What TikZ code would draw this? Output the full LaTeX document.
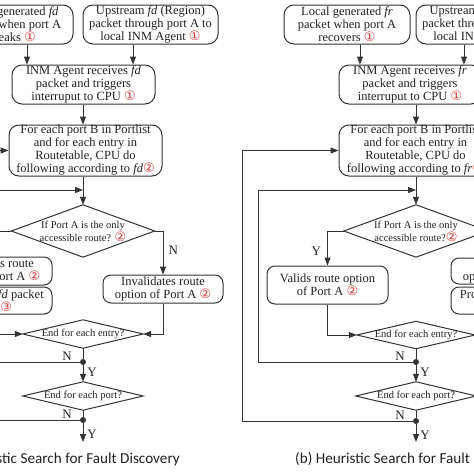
\documentclass[tikz,border=0pt]{standalone}
\usepackage{fontspec}
\setmainfont{Liberation Serif}
\newfontfamily\dvfont{DejaVu Sans}
\newfontfamily\capfont{Carlito}
\usetikzlibrary{arrows.meta,calc}
\definecolor{lc}{HTML}{333333}
\definecolor{tc}{HTML}{222222}
\definecolor{cr}{HTML}{D83A3A}
\newcommand\circnum[1]{{\color{cr}\dvfont\fontsize{13}{13}\selectfont #1}}
\newcommand\bxfont{\fontsize{12.5}{13}\selectfont}
\newcommand\dafont{\fontsize{10.5}{13}\selectfont}
\newcommand\drawdia[1]{\draw[ln] (#1.north) -- (#1.east) -- (#1.south) -- (#1.west) -- cycle;}
\begin{document}
\begin{tikzpicture}[x=1pt,y=-1pt,
  ln/.style={draw=lc, line width=1pt},
  arr/.style={ln, -{Triangle[length=8pt,width=6pt]}},
  box/.style={draw=lc, line width=1pt, rounded corners=10pt, align=center, inner sep=0pt, font=\bxfont, text=tc},
  sbox/.style={box, rounded corners=8pt, minimum width=120pt},
  dia/.style={align=center, inner sep=0pt, font=\dafont, text=tc},
  dot/.style={circle, fill=lc, inner sep=0pt, minimum size=6pt},
  lab/.style={font=\fontsize{13}{13}\selectfont, text=tc, inner sep=0pt},
  captext/.style={font=\capfont\fontsize{15.2}{16}\selectfont, text=tc, inner sep=0pt}]
\useasboundingbox (0,0) rectangle (474,474);
\fill[white] (0,0) rectangle (474,474);
\clip (0,0) rectangle (474,474);

% ---------------- (a) ----------------
\coordinate (ax1) at (27,0);
\coordinate (ax2) at (133,0);
\coordinate (ac) at (83,0);
\coordinate (aL1) at (-40,0);
\coordinate (aL2) at (-60,0);
\coordinate (am) at (83,190);
\coordinate (aend) at (83,442);

\node[box, minimum width=122pt, minimum height=39pt] (a1) at (12,24.5)
  {Local generated \textit{fd}\\packet when port A\\breaks \circnum{①}};
\node[box, minimum width=135pt, minimum height=39pt] (a2) at (150.5,24.5)
  {Upstream \textit{fd} (Region)\\packet through port A to\\local INM Agent \circnum{①}};
\node[box, minimum width=143pt, minimum height=39pt] (a3) at (83.5,84.5)
  {INM Agent receives \textit{fd}\\packet and triggers\\interruput to CPU \circnum{①}};
\node[box, minimum width=153pt, minimum height=51pt] (a4) at (85.5,150.5)
  {For each port B in Portlist\\and for each entry in\\Routetable, CPU do\\following according to \textit{fd}\circnum{②}};
\node[dia, minimum width=143pt, minimum height=52pt] (a5) at (83,231)
  {If Port A is the only\\accessible route? \circnum{②}};
\drawdia{a5}
\node[sbox, minimum height=28pt] (a6) at (-8,271)
  {Invalidates route\\option of Port A \circnum{②}};
\node[sbox, minimum height=27pt] (a7) at (-8,300.5)
  {Propagates \textit{fd} packet\\to all \circnum{③}};
\node[sbox, minimum height=28pt] (a8) at (163,289)
  {Invalidates route\\option of Port A \circnum{②}};
\node[dia, minimum width=120pt, minimum height=28pt] (a9) at (83,334)
  {End for each entry?};
\drawdia{a9}
\node[dot] (ad1) at (83,362) {};
\node[dia, minimum width=120pt, minimum height=28pt] (a10) at (83,396)
  {End for each port?};
\drawdia{a10}
\node[dot] (ad2) at (83,420) {};

\draw[arr] (a1.south -| ax1) -- (a3.north -| ax1);
\draw[arr] (a2.south -| ax2) -- (a3.north -| ax2);
\draw[arr] (a3.south -| ac) -- (a4.north -| ac);
\draw[arr] (a4.south -| ac) -- (a5.north);
\draw[arr] (a5.west) -| (a6.north);
\draw[arr] (a6.south) -- (a7.north);
\draw[arr] (a5.east) -| node[lab, pos=0.72, right=5pt] (aNlab) {N} (a8.north);
\draw[arr] (a7.south) |- (a9.west);
\draw[arr] (a8.south) |- (a9.east);
\draw[ln] (a9.south) -- (ad1);
\draw[arr] (ad1) -- (a10.north);
\draw[ln] (a10.south) -- (ad2);
\draw[arr] (ad2) -- (aend);
\draw[arr] (ad1) -- (ad1 -| aL1) -- (aL1 |- am) -- (am);
\draw[arr] (ad2) -- (ad2 -| aL2) -- (aL2 |- a4.west) -- (a4.west);
\node[lab] (aN1) at ($(ad1)+(-16,-6)$) {N};
\node[lab] (aY1) at ($(ad1)+(9,10)$) {Y};
\node[lab] (aN2) at ($(ad2)+(-16,-6)$) {N};
\node[lab] (aY2) at ($(ad2)+(9,14)$) {Y};
\node[captext, anchor=base east] (acap) at (180,463) {(a) Heuristic Search for Fault Discovery};

% ---------------- (b) ----------------
\coordinate (bx1) at (360,0);
\coordinate (bx2) at (464,0);
\coordinate (bc) at (416,0);
\coordinate (bL1) at (258,0);
\coordinate (bL2) at (242,0);
\coordinate (bm) at (416,190);
\coordinate (bend) at (416,442);

\node[box, minimum width=126pt, minimum height=39pt] (b1) at (347,24.5)
  {Local generated \textit{fr}\\packet when port A\\recovers \circnum{①}};
\node[box, minimum width=135pt, minimum height=39pt] (b2) at (483.5,24.5)
  {Upstream \textit{fr} (Region)\\packet through port A to\\local INM Agent \circnum{①}};
\node[box, minimum width=142pt, minimum height=39pt] (b3) at (410,84.5)
  {INM Agent receives \textit{fr}\\packet and triggers\\interruput to CPU \circnum{①}};
\node[box, minimum width=153pt, minimum height=51pt] (b4) at (415.5,150.5)
  {For each port B in Portlist\\and for each entry in\\Routetable, CPU do\\following according to \textit{fr}\circnum{②}};
\node[dia, minimum width=144pt, minimum height=52pt] (b5) at (416,231)
  {If Port A is the only\\accessible route?\circnum{②}};
\drawdia{b5}
\node[sbox, minimum width=121pt, minimum height=38pt] (b6) at (327.5,285)
  {Valids route option\\of Port A \circnum{②}};
\node[sbox, minimum height=26pt] (b7) at (511,271)
  {Valids route\\option of Port A \circnum{②}};
\node[sbox, minimum height=27pt] (b8) at (511,300.5)
  {Propagates \textit{fr} packet\\to all \circnum{③}};
\node[dia, minimum width=118pt, minimum height=27pt] (b9) at (416,335)
  {End for each entry?};
\drawdia{b9}
\node[dot] (bd1) at (416,362) {};
\node[dia, minimum width=120pt, minimum height=28pt] (b10) at (416,396)
  {End for each port?};
\drawdia{b10}
\node[dot] (bd2) at (416,421) {};

\draw[arr] (b1.south -| bx1) -- (b3.north -| bx1);
\draw[arr] (b2.south -| bx2) -- (b3.north -| bx2);
\draw[arr] (b3.south -| bc) -- (b4.north -| bc);
\draw[arr] (b4.south -| bc) -- (b5.north);
\draw[arr] (b5.west) -| node[lab, pos=0.8, left=6pt] (bYlab) {Y} (b6.north);
\draw[arr] (b5.east) -| (b7.north);
\draw[arr] (b7.south) -- (b8.north);
\draw[arr] (b6.south) |- (b9.west);
\draw[arr] (b8.south) |- (b9.east);
\draw[ln] (b9.south) -- (bd1);
\draw[arr] (bd1) -- (b10.north);
\draw[ln] (b10.south) -- (bd2);
\draw[arr] (bd2) -- (bend);
\draw[arr] (bd1) -- (bd1 -| bL1) -- (bL1 |- bm) -- (bm);
\draw[arr] (bd2) -- (bd2 -| bL2) -- (bL2 |- b4.west) -- (b4.west);
\node[lab] (bN1) at ($(bd1)+(-16,-6)$) {N};
\node[lab] (bY1) at ($(bd1)+(9,10)$) {Y};
\node[lab] (bN2) at ($(bd2)+(-16,-6)$) {N};
\node[lab] (bY2) at ($(bd2)+(9,14)$) {Y};
\node[captext, anchor=base west] (bcap) at (295,463) {(b) Heuristic Search for Fault Recovery};
\end{tikzpicture}
\end{document}
